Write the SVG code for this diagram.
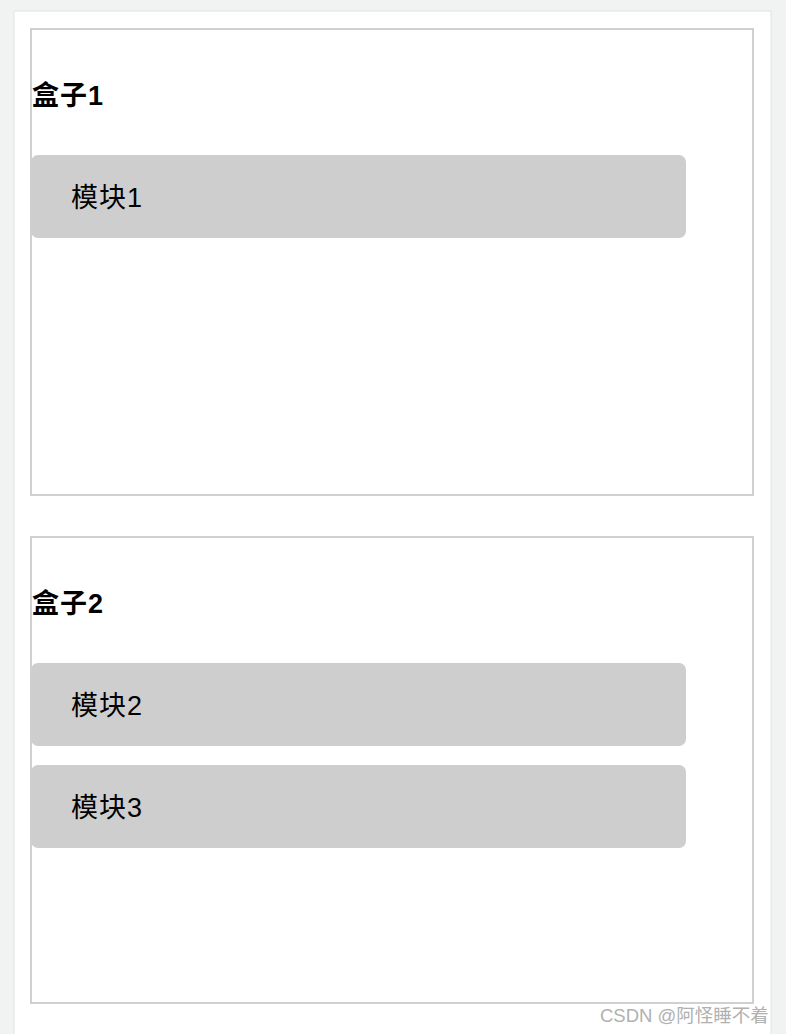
<svg xmlns="http://www.w3.org/2000/svg" width="786" height="1034" viewBox="0 0 786 1034">
<style>
.box{fill:#fff;stroke:#d0d0d0;stroke-width:2}
.mod{fill:#cecece}
.title{font-family:"Liberation Sans","Noto Sans CJK SC",sans-serif;font-weight:bold;font-size:27px;fill:#000;letter-spacing:1px}
.label{font-family:"Liberation Sans","Noto Sans CJK SC",sans-serif;font-size:27px;fill:#000;letter-spacing:1px}
.wm{font-family:"Liberation Sans","Noto Sans CJK SC",sans-serif;font-size:18.5px;fill:#b0b0b0}
</style>
<rect x="0" y="0" width="786" height="1034" fill="#f1f2f2"/>
<rect x="14" y="11" width="757" height="1030" fill="#fff" stroke="#e2e2e2" stroke-width="1"/>
<g id="box1">
<rect class="box" x="31" y="29" width="722" height="466"/>
<text class="title" x="32" y="105">盒子1</text>
</g>
<g id="module1">
<rect class="mod" x="31" y="155" width="655" height="83" rx="7"/>
<text class="label" x="71" y="207">模块1</text>
</g>
<g id="box2">
<rect class="box" x="31" y="537" width="722" height="466"/>
<text class="title" x="32" y="613">盒子2</text>
</g>
<g id="module2">
<rect class="mod" x="31" y="663" width="655" height="83" rx="7"/>
<text class="label" x="71" y="715">模块2</text>
</g>
<g id="module3">
<rect class="mod" x="31" y="765" width="655" height="83" rx="7"/>
<text class="label" x="71" y="817">模块3</text>
</g>
<g id="connectors"></g>
<text class="wm" x="600" y="1022">CSDN @阿怪睡不着</text>
</svg>
